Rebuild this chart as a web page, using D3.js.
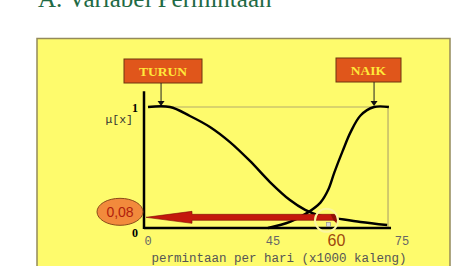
<!DOCTYPE html>
<html>
<head>
<meta charset="utf-8">
<script src="https://cdn.jsdelivr.net/npm/d3@7/dist/d3.min.js"></script>
<style>
  body { margin: 0; background: #fff; }
  svg { display: block; }
</style>
</head>
<body>
<svg id="chart" width="474" height="266"></svg>
<script>
// tick labels on the x axis (the slide spaces them unevenly)
var xTicks = [0, 45, 60, 75];
var xTickPos = [148, 273, 336.5, 402];

// membership curves: [permintaan, mu]
var turun = [[0, 1], [7.9, 1], [15.1, 0.926], [22.3, 0.835], [29.5, 0.71], [36.7, 0.554],
  [43.9, 0.38], [49, 0.231], [52.6, 0.15], [56.2, 0.1], [60, 0.08],
  [65.5, 0.05], [71.6, 0.025]];
var naik = [[43.2, 0], [49, 0.05], [53.1, 0.125], [56.2, 0.21], [58.1, 0.32],
  [59.5, 0.46], [61.4, 0.635], [63.2, 0.79], [65.5, 0.93], [68.6, 1], [72, 1]];

var xMax = 71.8;       // end of the curves
var xVal = 60;         // input value
var muVal = 0.08;      // result

var svg = d3.select("#chart");

var x = d3.scaleLinear().domain(xTicks).range(xTickPos);
var y = d3.scaleLinear().domain([0, 1]).range([228, 107]);

// title, mostly cut off at the top
svg.append("text")
  .attr("x", 38).attr("y", 7)
  .attr("font-family", "Liberation Serif, Times New Roman, serif")
  .attr("font-size", 25)
  .attr("fill", "#1f6a45")
  .text("A. Variabel Permintaan");

// yellow panel
svg.append("rect")
  .attr("x", 37).attr("y", 38.5)
  .attr("width", 413).attr("height", 240)
  .attr("fill", "#fefb6c")
  .attr("stroke", "#948a5a")
  .attr("stroke-width", 1.5);

// thin guide lines at mu = 1 and at the end of the range
svg.append("path")
  .attr("d", "M" + x(0) + "," + y(1) + "H" + x(xMax) + "V" + y(0))
  .attr("fill", "none")
  .attr("stroke", "#b4ab6a")
  .attr("stroke-width", 1.2);

var line = d3.line()
  .x(function(d) { return x(d[0]); })
  .y(function(d) { return y(d[1]); })
  .curve(d3.curveCatmullRom.alpha(0.5));

svg.append("path").datum(turun)
  .attr("d", line)
  .attr("fill", "none")
  .attr("stroke", "#000")
  .attr("stroke-width", 2.4);

svg.append("path").datum(naik)
  .attr("d", line)
  .attr("fill", "none")
  .attr("stroke", "#000")
  .attr("stroke-width", 2.4);

// axes
var x0 = x(0) - 4;
svg.append("line")
  .attr("x1", x0).attr("x2", x0)
  .attr("y1", y(1.13)).attr("y2", y(0) + 1)
  .attr("stroke", "#000").attr("stroke-width", 2.5);
svg.append("line")
  .attr("x1", x0).attr("x2", x(xMax) + 3)
  .attr("y1", y(0)).attr("y2", y(0))
  .attr("stroke", "#000").attr("stroke-width", 2.5);

var serif = "Liberation Serif, Times New Roman, serif";
var mono = "Liberation Mono, Courier New, monospace";

svg.append("text").attr("x", 138).attr("y", y(1) + 4.5)
  .attr("text-anchor", "end").attr("font-family", serif)
  .attr("font-weight", "bold").attr("font-size", 12).text("1");
svg.append("text").attr("x", 138).attr("y", y(0) + 9)
  .attr("text-anchor", "end").attr("font-family", serif)
  .attr("font-weight", "bold").attr("font-size", 12).text("0");
svg.append("text").attr("x", 133).attr("y", 123)
  .attr("text-anchor", "end").attr("font-family", mono)
  .attr("font-size", 11.5).attr("fill", "#333").text("\u03bc[x]");

// tick labels
svg.selectAll(".tick").data(xTicks).enter().append("text")
  .attr("class", "tick")
  .attr("x", function(d) { return x(d); })
  .attr("y", function(d) { return d === xVal ? 246 : 245; })
  .attr("text-anchor", "middle")
  .attr("font-family", function(d) { return d === xVal ? "Liberation Sans, Arial, sans-serif" : mono; })
  .attr("font-size", function(d) { return d === xVal ? 16 : 12; })
  .attr("fill", function(d) { return d === xVal ? "#a0480e" : "#666"; })
  .text(function(d) { return d; });

svg.append("text").attr("x", 279).attr("y", 262)
  .attr("text-anchor", "middle").attr("font-family", mono)
  .attr("font-size", 12.5).attr("fill", "#555")
  .text("permintaan per hari (x1000 kaleng)");

// red arrow from x = 60 back to the mu axis
var ay = y(muVal) - 1;
var tip = x0 + 2, head = 192, tail = x(xVal);
svg.append("path")
  .attr("d", "M" + tip + "," + ay + "L" + head + "," + (ay - 6) + "L" + head + "," + (ay - 3) +
    "L" + tail + "," + (ay - 3) + "L" + tail + "," + (ay + 3) + "L" + head + "," + (ay + 3) +
    "L" + head + "," + (ay + 6) + "Z")
  .attr("fill", "#c4180c")
  .attr("stroke", "#7a0a04")
  .attr("stroke-width", 0.6);
svg.append("path")
  .attr("d", "M" + (tail - 6) + "," + (ay - 3) + "L" + tail + "," + (ay - 3) + "L" + (tail + 1.5) + "," + (ay + 1) +
    "L" + (tail + 1) + "," + (ay + 7) + "L" + (tail - 3) + "," + (ay + 3) + "Z")
  .attr("fill", "#8e0f06");

// highlight ring and the little cursor square
svg.append("circle")
  .attr("cx", tail - 10).attr("cy", ay + 3).attr("r", 11.5)
  .attr("fill", "none").attr("stroke", "#fbf6a0").attr("stroke-width", 2);
svg.append("rect")
  .attr("x", tail - 10).attr("y", ay + 5).attr("width", 4).attr("height", 4)
  .attr("fill", "#ddd").attr("stroke", "#888").attr("stroke-width", 0.6);

// result ellipse
svg.append("ellipse")
  .attr("cx", 120).attr("cy", ay - 5.5)
  .attr("rx", 23).attr("ry", 13.5)
  .attr("fill", "#f28a3c").attr("stroke", "#8a4a1a").attr("stroke-width", 1);
svg.append("text")
  .attr("x", 120).attr("y", ay - 0.5)
  .attr("text-anchor", "middle")
  .attr("font-family", "Liberation Sans, Arial, sans-serif")
  .attr("font-size", 14).attr("fill", "#b01e0c")
  .text("0,08");

// labelled boxes with arrows
var boxes = [
  { label: "TURUN", x: 124, w: 78, y: 59, at: 4.7 },
  { label: "NAIK", x: 336, w: 65, y: 58, at: 68.6 }
];
boxes.forEach(function(b) {
  svg.append("rect")
    .attr("x", b.x).attr("y", b.y).attr("width", b.w).attr("height", 24)
    .attr("fill", "#e0561b").attr("stroke", "#6e3410").attr("stroke-width", 1);
  svg.append("text")
    .attr("x", b.x + b.w / 2).attr("y", b.y + 17)
    .attr("text-anchor", "middle").attr("font-family", serif)
    .attr("font-weight", "bold").attr("font-size", 13.5)
    .attr("fill", "#ffe83a").text(b.label);
  var ax = x(b.at);
  svg.append("line")
    .attr("x1", ax).attr("x2", ax).attr("y1", b.y + 24).attr("y2", y(1) - 4)
    .attr("stroke", "#222").attr("stroke-width", 1);
  svg.append("path")
    .attr("d", "M" + (ax - 3.5) + "," + (y(1) - 6) + "L" + (ax + 3.5) + "," + (y(1) - 6) + "L" + ax + "," + (y(1) - 1) + "Z")
    .attr("fill", "#111");
});
</script>
</body>
</html>
